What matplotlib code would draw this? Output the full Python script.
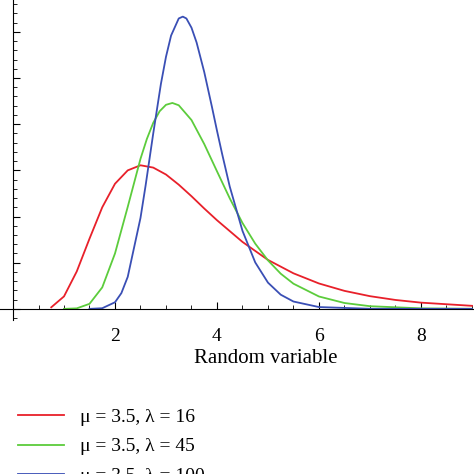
import numpy as np
import matplotlib; matplotlib.use("Agg"); import matplotlib.pyplot as plt
from matplotlib.ticker import MultipleLocator

# values
x_red = [0.75, 1.0, 1.25, 1.5, 1.75, 2.0, 2.25, 2.5, 2.75, 3.0, 3.25, 3.5, 3.75, 4.0, 4.5, 5.0, 5.5, 6.0, 6.5, 7.0, 7.5, 8.0, 9.0]
y_red = [0.0034, 0.027, 0.081, 0.152, 0.220, 0.271, 0.300, 0.311, 0.306, 0.291, 0.269, 0.244, 0.2174, 0.192, 0.145, 0.106, 0.077, 0.055, 0.039, 0.0275, 0.0193, 0.0135, 0.0066]
x_green = [1.0, 1.25, 1.5, 1.75, 2.0, 2.25, 2.5, 2.625, 2.75, 2.875, 3.0, 3.125, 3.25, 3.5, 3.75, 4.0, 4.25, 4.5, 4.75, 5.0, 5.25, 5.5, 6.0, 6.5, 7.0, 8.0, 9.0]
y_green = [0.0, 0.0011, 0.0109, 0.0465, 0.120, 0.221, 0.325, 0.368, 0.403, 0.428, 0.442, 0.446, 0.441, 0.409, 0.357, 0.298, 0.2395, 0.186, 0.1413, 0.105, 0.0762, 0.0545, 0.0268, 0.0127, 0.0058, 0.0011, 0.0002]
x_blue = [1.5, 1.75, 2.0, 2.125, 2.25, 2.5, 2.6, 2.75, 2.9, 3.0, 3.1, 3.25, 3.33, 3.4, 3.5, 3.6, 3.75, 3.9, 4.0, 4.1, 4.25, 4.5, 4.75, 5.0, 5.25, 5.5, 6.0, 7.0, 9.0]
y_blue = [0.0, 0.0014, 0.0143, 0.0341, 0.0694, 0.197, 0.267, 0.380, 0.487, 0.546, 0.592, 0.629, 0.633, 0.629, 0.609, 0.577, 0.513, 0.438, 0.386, 0.336, 0.265, 0.169, 0.1006, 0.0568, 0.0307, 0.0159, 0.0039, 0.0002, 0.0]
labels = ["μ = 3.5, λ = 16", "μ = 3.5, λ = 45", "μ = 3.5, λ = 100"]

plt.rcParams["font.family"] = ["Liberation Serif", "DejaVu Serif"]
fig = plt.figure(figsize=(4.74, 4.74), dpi=100)
ax = fig.add_axes([0, 0.325, 1, 0.675])
lines = []
for xs, ys, c in [(x_red, y_red, "#e8202a"), (x_green, y_green, "#5ccc3c"), (x_blue, y_blue, "#3a4fb5")]:
    l, = ax.plot(xs, ys, color=c, lw=1.3, solid_joinstyle="round")
    lines.append(l)
ax.set_xlim(-0.255, 9.04); ax.set_ylim(-0.024, 0.669)
for s in ("top", "right"): ax.spines[s].set_visible(False)
ax.spines["left"].set_position(("data", 0)); ax.spines["bottom"].set_position(("data", 0))
ax.xaxis.set_major_locator(MultipleLocator(2)); ax.xaxis.set_minor_locator(MultipleLocator(0.5))
ax.yaxis.set_major_locator(MultipleLocator(0.1)); ax.yaxis.set_minor_locator(MultipleLocator(0.02))
ax.tick_params(axis="x", which="both", direction="in", labelsize=14, pad=14)
ax.tick_params(axis="y", which="both", direction="in", labelleft=False)
ax.tick_params(which="major", length=5); ax.tick_params(which="minor", length=3)
ax.set_xticks([2, 4, 6, 8])
fig.text(0.56, 0.235, "Random variable", ha="center", fontsize=15)
fig.legend(lines, labels, loc="upper left", bbox_to_anchor=(0.0, 0.175), frameon=False,
           fontsize=14, handlelength=2.4, labelspacing=0.6)
fig.savefig("out.png", dpi=100)
